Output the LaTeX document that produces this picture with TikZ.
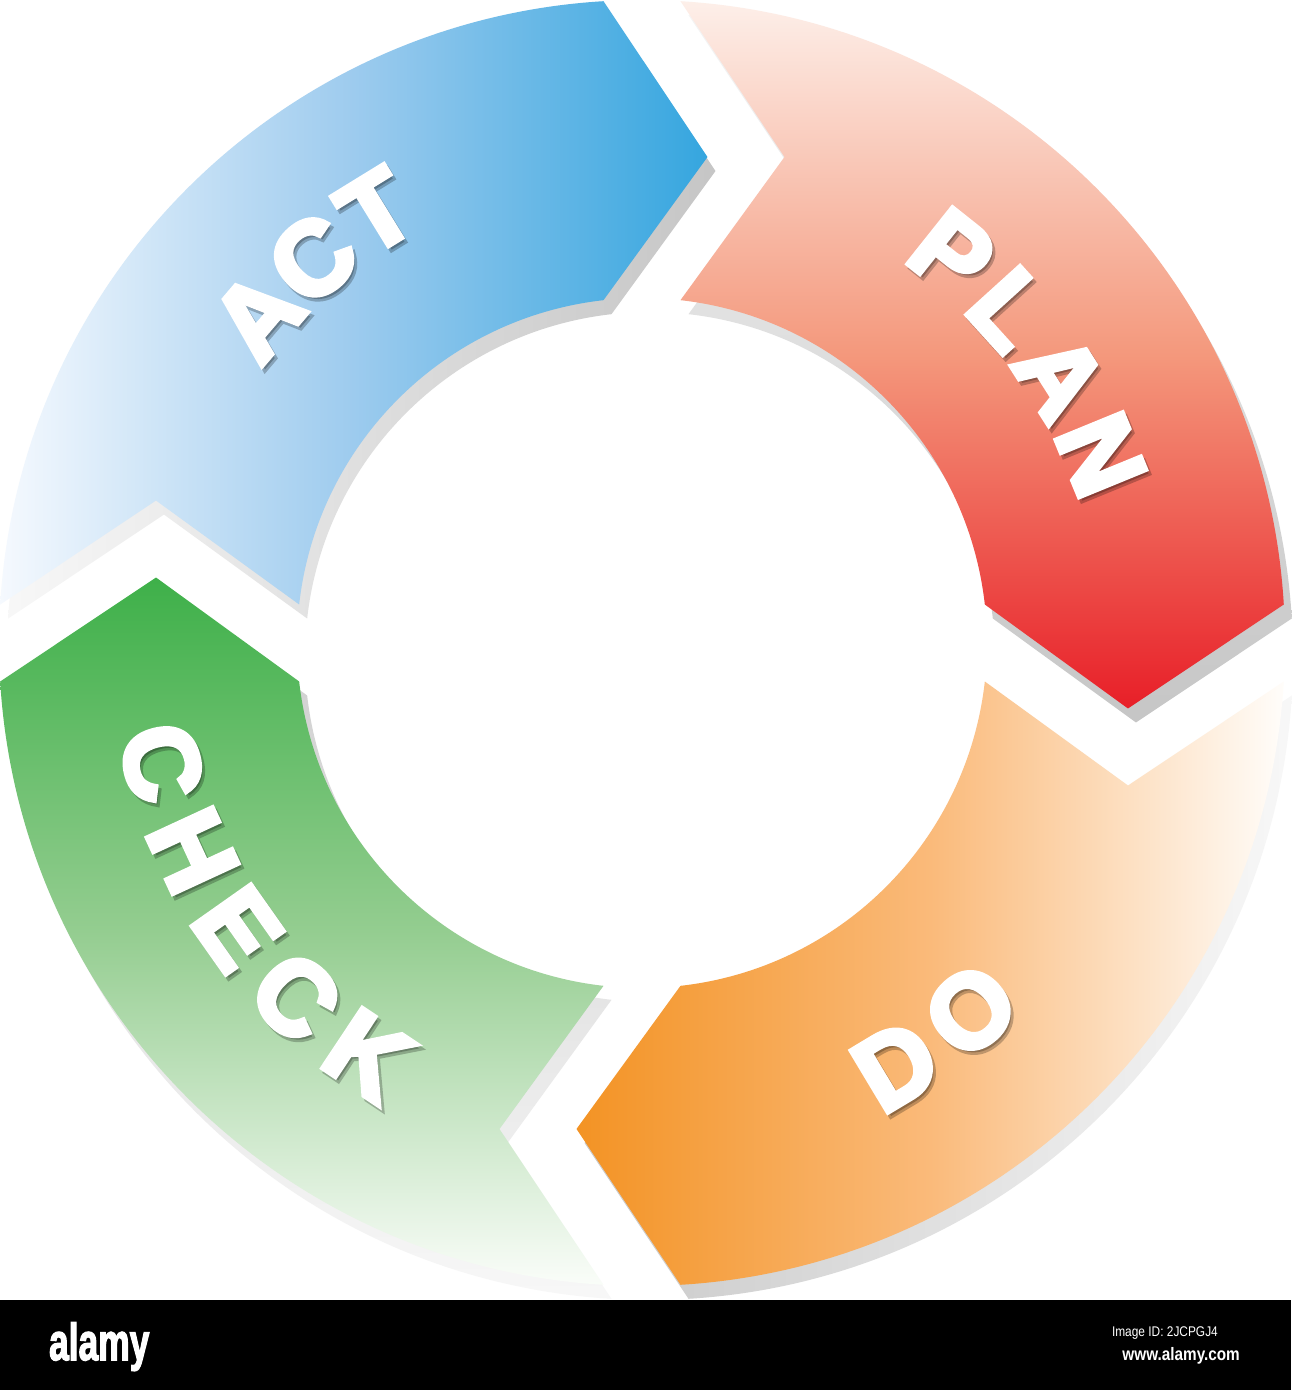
\documentclass[tikz,border=0pt]{standalone}
\usepackage{fontspec}
\setmainfont{Liberation Sans}
\newfontfamily\heavyfont{Liberation Sans Bold}[FakeBold=5]
\newfontfamily\logofont{Liberation Sans Bold}[FakeBold=3]
\usetikzlibrary{calc}
\definecolor{actL}{HTML}{F5F9FE}
\definecolor{actM}{HTML}{9DCBEE}
\definecolor{actR}{HTML}{35A6DF}
\definecolor{planT}{HTML}{FDEFE9}
\definecolor{planM}{HTML}{F4987C}
\definecolor{planB}{HTML}{E81F28}
\definecolor{doL}{HTML}{F39324}
\definecolor{doM}{HTML}{FABA7A}
\definecolor{doR}{HTML}{FFFDFA}
\definecolor{chkT}{HTML}{3EB049}
\definecolor{chkM}{HTML}{94CD90}
\definecolor{chkB}{HTML}{FAFDF9}
% one ring segment, rotated by #1 degrees (canonical = PLAN, top -> right)
\newcommand{\segpath}[1]{(83.593+#1:345pt) -- (73.66+#1:506.5pt) -- (86.567+#1:643pt)
  arc[start angle=86.567+#1, end angle=3.433+#1, radius=643pt]
  -- (-7.676+#1:490.4pt) -- (6.407+#1:345pt)
  arc[start angle=6.407+#1, end angle=83.593+#1, radius=345pt] -- cycle}
% one letter with its drop shadow: name, angle, radius, rotation, char
\newcommand{\lett}[5]{%
  \node[lblsh, rotate=#4] at ($(#2:#3pt)+(3pt,-4pt)$) {#5};
  \node[lbl, rotate=#4] (#1) at (#2:#3pt) {#5};}
\begin{document}
\begin{tikzpicture}[x=1pt,y=1pt,
  lbl/.style={font=\fontsize{104}{110}\heavyfont, text=white, inner sep=0pt},
  lblsh/.style={lbl, text=black, opacity=0.24},
  segshadow/.style={shift={(8,-14)}}]
\useasboundingbox (-642,-747) rectangle (649,643);
\fill[white] (-642,-747) rectangle (649,643);
% shadows
\shade[segshadow, left color=gray!6, right color=gray!45] \segpath{90};
\shade[segshadow, top color=gray!8, bottom color=gray!45] \segpath{0};
\shade[segshadow, left color=gray!42, right color=gray!6] \segpath{-90};
\shade[segshadow, top color=gray!40, bottom color=gray!6] \segpath{-180};
% segments
\shade[left color=actL, right color=actR, middle color=actM] \segpath{90};
\shade[top color=planT, bottom color=planB, middle color=planM] \segpath{0};
\shade[left color=doL, right color=doR, middle color=doM] \segpath{-90};
\shade[top color=chkT, bottom color=chkB, middle color=chkM] \segpath{-180};
% ACT
\lett{actA}{139.6}{505}{49.6}{A}
\lett{actC}{130.6}{506}{40.6}{C}
\lett{actT}{121.6}{507}{31.6}{T}
% PLAN
\lett{planP}{51.5}{498}{-38.5}{P}
\lett{planL}{42.2}{497}{-47.8}{L}
\lett{planA}{32.5}{496}{-57.5}{A}
\lett{planN}{22.3}{496}{-67.7}{N}
% DO
\lett{doD}{-59}{493}{31}{D}
\lett{doO}{-48.2}{493}{41.8}{O}
% CHECK
\lett{chkC}{194}{495}{284}{C}
\lett{chkH}{204.8}{495}{294.8}{H}
\lett{chkE}{215.2}{495}{305.2}{E}
\lett{chkCC}{225.6}{495}{315.6}{C}
\lett{chkK}{236.4}{495}{326.4}{K}
% bottom bar
\fill[black] (-642,-747) rectangle (649,-657);
\node[font=\fontsize{52}{52}\logofont, text=white, xscale=0.68, anchor=base west, inner sep=0pt] (logo) at (-593,-717) {alamy};
\node[font=\fontsize{14}{14}\selectfont, text=white, xscale=0.85, anchor=east, inner sep=0pt] (imgid) at (576,-690) {Image ID: 2JCPGJ4};
\node[font=\fontsize{18}{18}\selectfont\bfseries, text=white, xscale=0.85, anchor=east, inner sep=0pt] (url) at (598,-713) {www.alamy.com};
\end{tikzpicture}
\end{document}
